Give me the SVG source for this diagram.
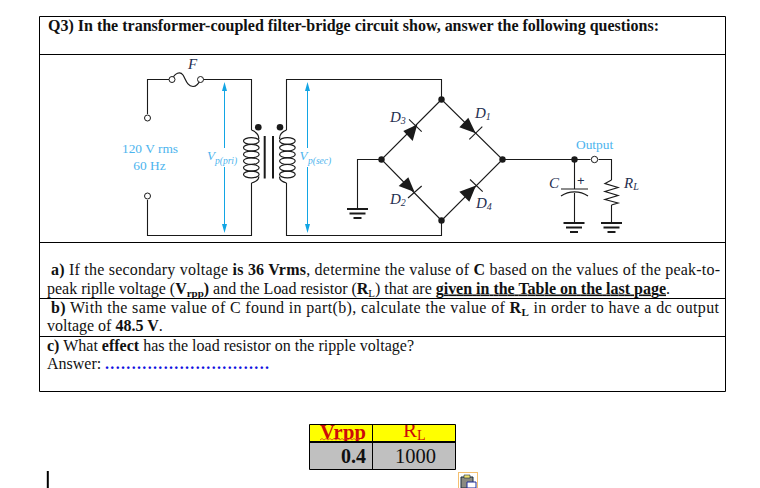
<svg xmlns="http://www.w3.org/2000/svg" width="760" height="488" viewBox="0 0 760 488">
<style>
text{font-family:"Liberation Serif","Times New Roman",serif;fill:#111}
.b{font-weight:bold}
.t{font-size:16px}
.w{fill:none;stroke:#1a1a1a;stroke-width:1.1}
.f{fill:none;stroke:#000;stroke-width:1}
.bl{fill:none;stroke:#12a5e4;stroke-width:1}
.ah{fill:#12a5e4}
.n{fill:#1a1a1a}
.o{fill:#fff;stroke:#1a1a1a;stroke-width:1}
.g{stroke:#1a1a1a;fill:none;stroke-width:2}
.cl{font-size:13.4px;fill:#4cb4ee}
.il{font-style:italic;font-size:15px;fill:#1f2f50}
.vl{font-style:italic;fill:#4cb4ee}
.rd{fill:#cc0a0a}
.c{fill:none;stroke:#1a1a1a;stroke-width:1.2}
</style>
<defs>
<g id="gnd"><path class="g" d="M-10.5 0H10.5M-8 4.5H8"/><path class="g" stroke-width="2.6" d="M-4 9H4"/></g>
<g id="coil"><ellipse class="c" cy="141" rx="7.8" ry="3.3"/><ellipse class="c" cy="147.7" rx="7.8" ry="3.3"/><ellipse class="c" cy="154.4" rx="7.8" ry="3.3"/><ellipse class="c" cy="161.1" rx="7.8" ry="3.3"/><ellipse class="c" cy="167.8" rx="7.8" ry="3.3"/><ellipse class="c" cy="174.5" rx="7.8" ry="3.3"/></g>
<clipPath id="hd"><rect x="310" y="425" width="145" height="17"/></clipPath>
</defs>
<g id="frame">
<path class="f" d="M39.5 16.5H725.5V391.5H39.5ZM39.5 54.5H725.5M39.5 242.5H725.5M39.5 298.5H725.5M39.5 336.5H725.5"/>
</g>
<g id="connectors">
<path class="w" d="M147.5 114V79.5H172M200.5 79.5H251.5V130M251.5 183V235.5H147.5V200"/>
<path class="w" d="M286.5 130V79.5H441.5V99.5L502.5 159.5L441.5 220.5V235.5H286.5V183"/>
<path class="w" d="M441.5 99.5L381.5 159.5L441.5 220.5M381.5 159.5H357.5V208M502.5 159.5H590.5M598.5 159.5H611.5V180M611.5 205V222M574.5 159.5V189M574.5 193V222"/>
<path class="c" d="M172 79.5C175 73 180 71 183 75C186 80 187 86 193 86.5C197 86.5 199 83 200.5 79.5"/>
<path class="c" d="M251.5 130C254 131 259 133 258.8 139M258.8 176.5C259 180 255 182 251.5 183M286.5 130C284 131 279 133 279.7 139M279.7 176.5C279 180 283 182 286.5 183"/>
<path class="c" stroke-width="1.4" d="M611.5 180L605 183.5 618 187.5 605 191.5 618 195.5 605 199.5 618 203 611.5 205"/>
<path class="bl" d="M224.5 90V148M224.5 167V228M307.5 90V148M307.5 167V228"/>
<path class="ah" d="M224.5 82L227 91H222ZM224.5 233L227 224H222ZM307.5 82L310 91H305ZM307.5 233L310 224H305Z"/>
</g>
<g id="fuse"><circle class="o" cx="172" cy="79.5" r="3"/><circle class="o" cx="200.5" cy="79.5" r="3"/><text x="188" y="69" class="il">F</text></g>
<g id="source"><circle class="o" cx="147.5" cy="118" r="3"/><circle class="o" cx="147.5" cy="196" r="3"/><text x="150" y="153" text-anchor="middle" class="cl">120 V rms</text><text x="149.5" y="170" text-anchor="middle" class="cl">60 Hz</text></g>
<g id="transformer">
<use href="#coil" x="251.3"/><use href="#coil" x="287.4"/>
<path stroke="#1a1a1a" stroke-width="2" d="M264.7 136V178.5M273 136V178.5"/>
<circle class="n" cx="258.3" cy="127.3" r="3.3"/><circle class="n" cx="280" cy="127.3" r="3.3"/>
<text x="207" y="160" class="vl" font-size="13">V</text><text x="215" y="164" class="vl" font-size="9.5">p(pri)</text>
<text x="299.5" y="160" class="vl" font-size="13">V</text><text x="308" y="164" class="vl" font-size="9.5">p(sec)</text>
</g>
<g id="D1"><path class="n" d="M475.7 133.2L459.3 127.3 468.3 117.7Z"/><path class="w" stroke-width="1.3" d="M469.3 139.3L482.3 126.7"/><text x="475" y="118" class="il">D<tspan font-size="10" dy="2">1</tspan></text></g>
<g id="D2"><path class="n" d="M414.5 192L398.7 186 408.3 177.3Z"/><path class="w" stroke-width="1.3" d="M408 198L421.7 186"/><text x="390" y="204" class="il">D<tspan font-size="10" dy="2">2</tspan></text></g>
<g id="D3"><path class="n" d="M417.3 124.5L403.3 131 412.7 141Z"/><path class="w" stroke-width="1.3" d="M409 119.3L421.7 131.7"/><text x="390" y="122" class="il">D<tspan font-size="10" dy="2">3</tspan></text></g>
<g id="D4"><path class="n" d="M476 185.5L459.3 191.7 469.3 201.7Z"/><path class="w" stroke-width="1.3" d="M470 179.5L482.7 191.7"/><text x="476" y="208" class="il">D<tspan font-size="10" dy="2">4</tspan></text></g>
<g id="nodes"><circle class="n" cx="441.5" cy="99.5" r="3.2"/><circle class="n" cx="381.5" cy="159.5" r="3.2"/><circle class="n" cx="502.5" cy="159.5" r="3.2"/><circle class="n" cx="441.5" cy="220.5" r="3.2"/><circle class="n" cx="574.5" cy="159.5" r="3.2"/></g>
<g id="output"><circle class="o" cx="594.5" cy="159.5" r="3.2"/><text x="576" y="149" class="cl">Output</text></g>
<g id="C"><path class="c" stroke-width="1.5" d="M561 189H588M561 196C569 190.5 580 190.5 588 196"/><text x="549" y="188" class="il">C</text><text x="577" y="185" style="font-family:'Liberation Sans',sans-serif;font-size:13px;fill:#1f2f50">+</text></g>
<g id="RL"><text x="624" y="187.5" class="il">R<tspan font-size="10" dy="2">L</tspan></text></g>
<g id="grounds"><use href="#gnd" x="357.5" y="209"/><use href="#gnd" x="574" y="223"/><use href="#gnd" x="611.5" y="223"/></g>
<g id="question">
<text x="48" y="31" class="b" font-size="16" textLength="611">Q3) In the transformer-coupled filter-bridge circuit show, answer the following questions:</text>
<text x="51" y="275" class="t" textLength="669"><tspan class="b">a)</tspan> If the secondary voltage <tspan class="b">is 36 Vrms</tspan>, determine the valuse of <tspan class="b">C</tspan> based on the values of the peak-to-</text>
<text x="47" y="293.5" class="t" textLength="623">peak riplle voltage (<tspan class="b">V<tspan font-size="11" dy="3">rpp</tspan><tspan dy="-3">)</tspan></tspan> and the Load resistor (<tspan class="b">R</tspan><tspan font-size="11" dy="3">L</tspan><tspan dy="-3">)</tspan> that are <tspan class="b" text-decoration="underline">given in the Table on the last page</tspan>.</text>
<text x="51" y="313" class="t" textLength="668"><tspan class="b">b)</tspan> With the same value of C found in part(b), calculate the value of <tspan class="b">R</tspan><tspan class="b" font-size="11" dy="3">L</tspan><tspan dy="-3"> in order to have a dc output</tspan></text>
<text x="47" y="331" class="t">voltage of <tspan class="b">48.5 V</tspan>.</text>
<text x="47" y="351" class="t" textLength="367"><tspan class="b">c)</tspan> What <tspan class="b">effect</tspan> has the load resistor on the ripple voltage?</text>
<text x="47" y="369" class="t">Answer:</text>
<text x="105" y="369" class="t" font-weight="bold" style="fill:#1010e0" textLength="164">...............................</text>
</g>
<g id="table">
<rect x="309.5" y="424.5" width="146" height="18" fill="#ffff00"/>
<rect x="309.5" y="442.5" width="146" height="27" fill="#c0c0c0"/>
<g clip-path="url(#hd)">
<text x="320" y="439" class="b rd" font-size="20.5" textLength="46">Vrpp</text>
<text x="403" y="437" class="rd" font-size="21">R<tspan font-size="14" dy="3">L</tspan></text>
</g>
<path fill="none" stroke="#d04020" stroke-width="0.8" d="M320 440l2 -1.5 2 1.5 2 -1.5 2 1.5 2 -1.5 2 1.5 2 -1.5 2 1.5 2 -1.5 2 1.5 2 -1.5 2 1.5 2 -1.5 2 1.5 2 -1.5 2 1.5 2 -1.5 2 1.5 2 -1.5 2 1.5"/>
<path class="f" d="M309.5 424.5H455.5V469.5H309.5ZM372.5 424.5V469.5"/>
<path stroke="#000" stroke-width="2" d="M309.5 442H455.5"/>
<text x="366" y="463" class="b" font-size="20" text-anchor="end">0.4</text>
<text x="395" y="463" font-size="20.5">1000</text>
</g>
<g id="cursor"><path stroke="#000" stroke-width="2" d="M47.8 471V488"/></g>
<g id="icon">
<rect x="458.5" y="472.5" width="19" height="16" fill="#fff" stroke="#f5c070"/>
<path d="M461 477H473V488H461Z" fill="#8a8a80" stroke="#1a2a3a"/>
<path d="M464 475H470V478H464Z" fill="#f0e070" stroke="#1a2a3a" stroke-width=".6"/>
<path d="M467 482H476V488H467Z" fill="#fff" stroke="#1a2a9a"/>
</g>
</svg>
